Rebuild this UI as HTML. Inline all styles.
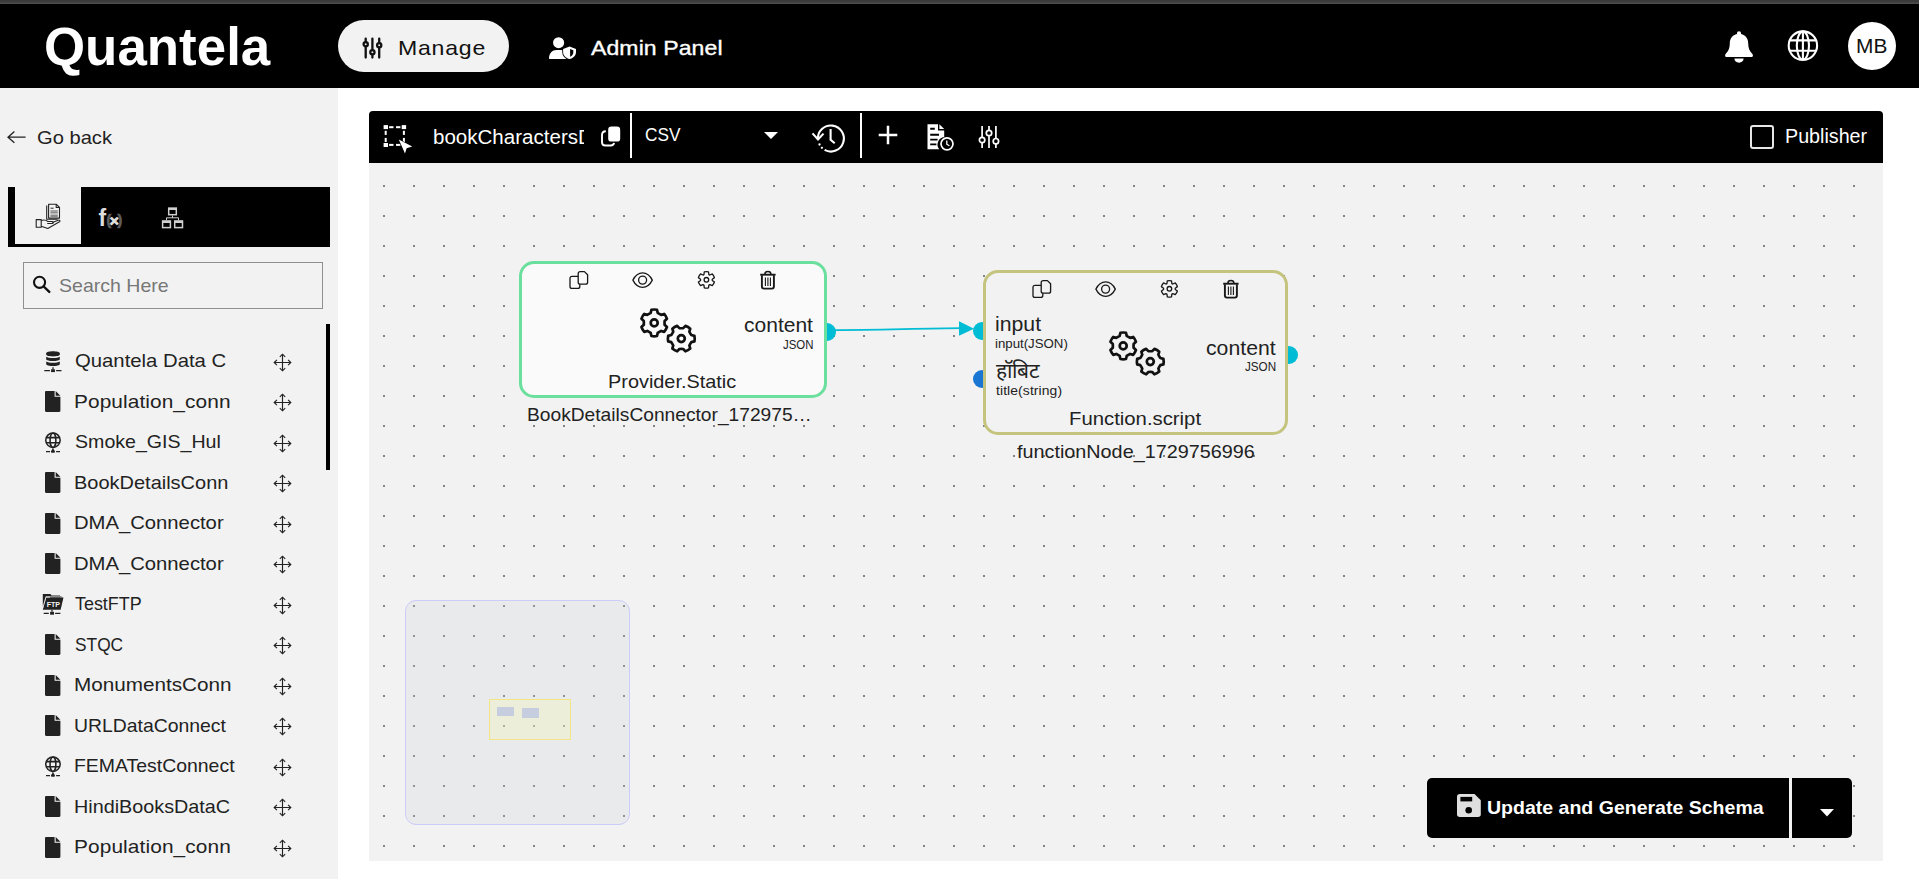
<!DOCTYPE html>
<html lang="en"><head><meta charset="utf-8"><title>Quantela</title>
<style>
html,body{margin:0;padding:0;}
body{width:1919px;height:879px;position:relative;overflow:hidden;background:#fff;font-family:"Liberation Sans","Noto Sans CJK SC",sans-serif;}
svg{display:block;overflow:visible;}
</style></head>
<body>
<div style="position:absolute;left:0px;top:0px;width:1919px;height:4px;background:linear-gradient(#3b3b3b 0,#3b3b3b 2px,#434443 2px,#434443 3px,#4b4d4c 3px,#4b4d4c 4px);"></div>
<div style="position:absolute;left:0px;top:4px;width:1919px;height:84px;background:#000;"></div>
<span style="position:absolute;left:44.39px;top:19.84px;font-size:53px;line-height:1;letter-spacing:0.000px;color:#fff;white-space:nowrap;font-weight:700;transform:scaleX(0.997558268590455);transform-origin:0 0;">Quantela</span>
<div style="position:absolute;left:338px;top:20px;width:171px;height:52px;background:#f2f2f2;border-radius:26px;"></div>
<svg style="position:absolute;left:362px;top:37px;" width="21" height="22" viewBox="0 0 21 22" ><g stroke="#111" stroke-width="2.3" fill="none" stroke-linecap="round"><path d="M3.7 1.6V5.1M3.7 9.3V20.6"/><circle cx="3.7" cy="7.2" r="2.1"/><path d="M10.4 1.6V13.1M10.4 17.3V20.6"/><circle cx="10.4" cy="15.2" r="2.1"/><path d="M17.2 1.6V6.1M17.2 10.299999999999999V20.6"/><circle cx="17.2" cy="8.2" r="2.1"/></g></svg>
<span style="position:absolute;left:397.75px;top:38.16px;font-size:20.6px;line-height:1;letter-spacing:0.693px;color:#111;white-space:nowrap;transform:scaleX(1.12);transform-origin:0 0;">Manage</span>
<svg style="position:absolute;left:548px;top:36px;" width="30" height="24" viewBox="0 0 30 24" ><circle cx="10.600" cy="6.700" r="5.550" fill="#fff"/><path d="M1.800 23.100C1.200 23.100 1 22.800 1 22.200C1 17.200 4.200 13.900 8.600 13.900H13.400C17.800 13.900 20 17.200 20 22.200V23.100Z" fill="#fff"/><path d="M21.550 10.600L28 13V16C28 19.600 25.400 22 21.550 23.100C17.700 22 15.100 19.600 15.100 16V13Z" fill="#fff" stroke="#000" stroke-width="1.700" stroke-linejoin="round" paint-order="stroke"/><path d="M22.100 13L25.300 14.200V16.200C25.300 18.300 24.100 19.700 22.100 20.700Z" fill="#000"/></svg>
<span style="position:absolute;left:591.40px;top:38.36px;font-size:20.6px;line-height:1;letter-spacing:0.070px;color:#fff;white-space:nowrap;-webkit-text-stroke:0.35px #fff;transform:scaleX(1.12);transform-origin:0 0;">Admin Panel</span>
<svg style="position:absolute;left:1724px;top:30px;" width="30" height="34" viewBox="0 0 30 34" ><path d="M15 1.2c1.2 0 2 .9 2 2v.9c4.400.9 7.200 4.700 7.200 9.200c0 4.800 1.300 7.800 3.800 10.300c.7.700.9 1.300.9 1.900c0 .9-.7 1.600-1.800 1.600H2.900c-1.100 0-1.800-.7-1.800-1.600c0-.6.200-1.200.900-1.900c2.500-2.500 3.800-5.500 3.800-10.300c0-4.500 2.800-8.300 7.200-9.200v-.9c0-1.100.8-2 2-2z" fill="#fff"/><path d="M10.400 28.600h9.200c0 2.500-2 4.100-4.600 4.100s-4.600-1.600-4.600-4.100z" fill="#fff"/></svg>
<svg style="position:absolute;left:1786px;top:29px;" width="34" height="34" viewBox="0 0 34 34" ><g fill="none" stroke="#fff" stroke-width="2.1"><circle cx="16.900" cy="16.600" r="14.200"/><ellipse cx="16.900" cy="16.600" rx="6.100" ry="14.200"/><path d="M16.900 2.400V30.800M3.900 11.400H29.900M3.900 21.800H29.900"/></g></svg>
<div style="position:absolute;left:1848px;top:21.6px;width:48px;height:48px;background:#fff;border-radius:50%;"></div>
<span style="position:absolute;left:1856.13px;top:36.26px;font-size:20.6px;line-height:1;letter-spacing:0.000px;color:#111;white-space:nowrap;transform:scaleX(1.0133938062504477);transform-origin:0 0;">MB</span>
<div style="position:absolute;left:0px;top:88px;width:338px;height:791px;background:#f2f2f2;"></div>
<svg style="position:absolute;left:6px;top:129px;" width="22" height="16" viewBox="0 0 22 16" ><path d="M8.400 2.600L2 8.200l6.400 5.600M2 8.200H19.600" stroke="#222" stroke-width="1.3" fill="none"/></svg>
<span style="position:absolute;left:36.99px;top:128.86px;font-size:18.6px;line-height:1;letter-spacing:0.000px;color:#222;white-space:nowrap;transform:scaleX(1.0825835710628338);transform-origin:0 0;">Go back</span>
<div style="position:absolute;left:8px;top:187px;width:322px;height:60px;background:#000;"></div>
<div style="position:absolute;left:15px;top:187px;width:66px;height:56.6px;background:#f2f2f2;"></div>
<svg style="position:absolute;left:34px;top:202px;" width="28" height="28" viewBox="0 0 28 28" ><g fill="none" stroke="#222" stroke-width="1.1" stroke-linejoin="round"><path d="M14.6 2.2h7.6l3.300 3.300v10.600H14.600z"/><path d="M22.200 2.200v3.300h3.300"/><path d="M12.700 3.600v13.600h11"/><path d="M16.600 6.200h3" stroke-width="1"/><path d="M16.400 8.800h7.400M16.400 10.400h7.400M16.400 12h7.400" stroke="#8a8a8a" stroke-width="1.200"/><path d="M16.400 14h7.400" stroke-width="1"/><path d="M2.200 17.600h5v7.600h-5z"/><path d="M7.200 18.600c2.400-.9 4.700-.7 6.600.9h4.400c1.400 0 1.400 2 0 2h-5"/><path d="M7.200 24.200l6.600 2.200l11.700-6.600c1-.6.200-2.200-1.200-1.600l-6 2.300"/></g></svg>
<svg style="position:absolute;left:97px;top:206px;" width="27" height="22" viewBox="0 0 27 22" ><text x="1.4" y="20" style="font-family:Liberation Sans,sans-serif;font-weight:700;font-size:23px" fill="#dedede">f</text><text x="9.4" y="19.2" style="font-family:Liberation Sans,sans-serif;font-weight:700;font-size:14px" fill="#5e5e5e" stroke="#5e5e5e" stroke-width="0.7">(</text><text x="12.8" y="19.6" style="font-family:Liberation Sans,sans-serif;font-weight:700;font-size:15.5px" fill="#dedede" stroke="#dedede" stroke-width="0.9">×</text><text x="20.6" y="19.2" style="font-family:Liberation Sans,sans-serif;font-weight:700;font-size:14px" fill="#5e5e5e" stroke="#5e5e5e" stroke-width="0.7">)</text></svg>
<svg style="position:absolute;left:161px;top:206px;" width="23" height="23" viewBox="0 0 23 23" ><g fill="none" stroke="#d0d0d0" stroke-width="1.500"><rect x="7.700" y="2.100" width="7.600" height="6.600"/><rect x="1.600" y="15" width="7.800" height="6.600"/><rect x="13.700" y="15" width="7.800" height="6.600"/></g><path d="M7.700 3h7.600M1.600 15.900h7.800M13.700 15.900h7.800" stroke="#d0d0d0" stroke-width="2.200"/><path d="M11.500 9.500v2.300M5.500 14.100v-2.300h12v2.300" fill="none" stroke="#d0d0d0" stroke-width="1"/></svg>
<div style="position:absolute;left:23px;top:262px;width:298px;height:45px;border:1px solid #8f8f8f;background:#f2f2f2;"></div>
<svg style="position:absolute;left:31px;top:275px;" width="21" height="21" viewBox="0 0 21 21" ><circle cx="8.550" cy="7.300" r="5.550" fill="none" stroke="#111" stroke-width="2.100"/><path d="M12.700 11.500L18.300 16.900" stroke="#111" stroke-width="2.400" stroke-linecap="round"/></svg>
<span style="position:absolute;left:59.42px;top:277.26px;font-size:18.6px;line-height:1;letter-spacing:0.000px;color:#777;white-space:nowrap;transform:scaleX(1.050941468398774);transform-origin:0 0;">Search Here</span>
<div style="position:absolute;left:326px;top:324px;width:4px;height:146px;background:#000;"></div>
<span style="position:absolute;left:74.79px;top:352.06px;font-size:18.6px;line-height:1;letter-spacing:0.000px;color:#222;white-space:nowrap;transform:scaleX(1.0913285008285336);transform-origin:0 0;">Quantela Data C</span>
<svg style="position:absolute;left:273px;top:352.9px;" width="19" height="19" viewBox="0 0 19 19" ><g fill="none" stroke="#222" stroke-width="1.150" stroke-linejoin="miter"><path d="M9.500 1.200V17.800M1.200 9.500H17.800"/><path d="M6.800 3.900L9.500 1.200L12.200 3.900M6.800 15.100L9.500 17.800L12.200 15.100M3.900 6.800L1.200 9.500L3.900 12.200M15.100 6.800L17.800 9.500L15.100 12.200"/></g></svg>
<svg style="position:absolute;left:44px;top:350.7px;" width="18" height="21.5" viewBox="0 0 18 21.5" ><path d="M2.200 2.300C2.200 -0.400 15.800 -0.400 15.800 2.300V3.600C15.800 6.100 2.200 6.100 2.200 3.600Z" fill="#222"/><path d="M2.200 5.700C4.500 7.500 13.500 7.500 15.800 5.700V8.300C15.800 10.700 2.200 10.700 2.200 8.300Z" fill="#222"/><path d="M2.200 10.400C4.500 12.100 13.500 12.100 15.800 10.400V13C15.800 15.700 2.200 15.700 2.200 13Z" fill="#222"/><path d="M9.0 16.3v2.200" stroke="#222" stroke-width="1.300"/><rect x="7.05" y="18.3" width="3.900" height="2.800" fill="#222"/><path d="M0.3 19.7h5.7M12.1 19.7h5.4" stroke="#222" stroke-width="1.300"/></svg>
<span style="position:absolute;left:74.03px;top:392.56px;font-size:18.6px;line-height:1;letter-spacing:0.084px;color:#222;white-space:nowrap;transform:scaleX(1.12);transform-origin:0 0;">Population_conn</span>
<svg style="position:absolute;left:273px;top:393.4px;" width="19" height="19" viewBox="0 0 19 19" ><g fill="none" stroke="#222" stroke-width="1.150" stroke-linejoin="miter"><path d="M9.500 1.200V17.800M1.200 9.500H17.800"/><path d="M6.800 3.900L9.500 1.200L12.200 3.900M6.800 15.100L9.500 17.800L12.200 15.100M3.900 6.800L1.200 9.500L3.900 12.200M15.100 6.800L17.800 9.500L15.100 12.200"/></g></svg>
<svg style="position:absolute;left:45px;top:391.2px;" width="16" height="21" viewBox="0 0 16 21" ><path d="M1.200 0h8.400v5.800h5.800V19.800c0 .7-.5 1.200-1.200 1.200H1.200C.5 21 0 20.500 0 19.800V1.200C0 .5.500 0 1.200 0z" fill="#222"/><path d="M10.700 0L15.400 4.700h-4.700z" fill="#222"/></svg>
<span style="position:absolute;left:74.82px;top:433.06px;font-size:18.6px;line-height:1;letter-spacing:0.000px;color:#222;white-space:nowrap;transform:scaleX(1.0532796798381598);transform-origin:0 0;">Smoke_GIS_Hul</span>
<svg style="position:absolute;left:273px;top:433.9px;" width="19" height="19" viewBox="0 0 19 19" ><g fill="none" stroke="#222" stroke-width="1.150" stroke-linejoin="miter"><path d="M9.500 1.200V17.800M1.200 9.500H17.800"/><path d="M6.800 3.900L9.500 1.200L12.200 3.900M6.800 15.100L9.500 17.800L12.200 15.100M3.900 6.800L1.200 9.500L3.900 12.200M15.100 6.800L17.800 9.500L15.100 12.200"/></g></svg>
<svg style="position:absolute;left:44px;top:431.7px;" width="18" height="21.5" viewBox="0 0 18 21.5" ><g fill="none" stroke="#222" stroke-width="1.550"><circle cx="8.950" cy="8.200" r="7.200"/><ellipse cx="8.950" cy="8.200" rx="2.900" ry="7.250"/><path d="M2.100 5.600h13.700M2.100 10.800h13.700"/></g><path d="M8.950 15.800L10.700 19.400H7.200Z" fill="#222"/><rect x="7" y="18.600" width="3.900" height="2.200" rx="0.8" fill="#222"/><path d="M2 19.700h4M12.100 19.700h3.900" stroke="#222" stroke-width="1.300"/></svg>
<span style="position:absolute;left:74.10px;top:473.56px;font-size:18.6px;line-height:1;letter-spacing:0.000px;color:#222;white-space:nowrap;transform:scaleX(1.0745595369818708);transform-origin:0 0;">BookDetailsConn</span>
<svg style="position:absolute;left:273px;top:474.4px;" width="19" height="19" viewBox="0 0 19 19" ><g fill="none" stroke="#222" stroke-width="1.150" stroke-linejoin="miter"><path d="M9.500 1.200V17.800M1.200 9.500H17.800"/><path d="M6.800 3.900L9.500 1.200L12.200 3.900M6.800 15.100L9.500 17.800L12.200 15.100M3.900 6.800L1.200 9.500L3.900 12.200M15.100 6.800L17.800 9.500L15.100 12.200"/></g></svg>
<svg style="position:absolute;left:45px;top:472.2px;" width="16" height="21" viewBox="0 0 16 21" ><path d="M1.200 0h8.400v5.800h5.800V19.800c0 .7-.5 1.200-1.200 1.200H1.200C.5 21 0 20.500 0 19.800V1.200C0 .5.500 0 1.200 0z" fill="#222"/><path d="M10.700 0L15.400 4.700h-4.700z" fill="#222"/></svg>
<span style="position:absolute;left:74.08px;top:514.06px;font-size:18.6px;line-height:1;letter-spacing:0.000px;color:#222;white-space:nowrap;transform:scaleX(1.0885346422280688);transform-origin:0 0;">DMA_Connector</span>
<svg style="position:absolute;left:273px;top:514.9000000000001px;" width="19" height="19" viewBox="0 0 19 19" ><g fill="none" stroke="#222" stroke-width="1.150" stroke-linejoin="miter"><path d="M9.500 1.200V17.800M1.200 9.500H17.800"/><path d="M6.800 3.900L9.500 1.200L12.200 3.900M6.800 15.100L9.500 17.800L12.200 15.100M3.900 6.800L1.200 9.500L3.900 12.200M15.100 6.800L17.800 9.500L15.100 12.200"/></g></svg>
<svg style="position:absolute;left:45px;top:512.7px;" width="16" height="21" viewBox="0 0 16 21" ><path d="M1.200 0h8.400v5.800h5.800V19.800c0 .7-.5 1.200-1.200 1.200H1.200C.5 21 0 20.500 0 19.800V1.200C0 .5.500 0 1.200 0z" fill="#222"/><path d="M10.700 0L15.400 4.700h-4.700z" fill="#222"/></svg>
<span style="position:absolute;left:74.08px;top:554.56px;font-size:18.6px;line-height:1;letter-spacing:0.000px;color:#222;white-space:nowrap;transform:scaleX(1.0885346422280688);transform-origin:0 0;">DMA_Connector</span>
<svg style="position:absolute;left:273px;top:555.4000000000001px;" width="19" height="19" viewBox="0 0 19 19" ><g fill="none" stroke="#222" stroke-width="1.150" stroke-linejoin="miter"><path d="M9.500 1.200V17.800M1.200 9.500H17.800"/><path d="M6.800 3.900L9.500 1.200L12.200 3.900M6.800 15.100L9.500 17.800L12.200 15.100M3.900 6.800L1.200 9.500L3.900 12.200M15.100 6.800L17.800 9.500L15.100 12.200"/></g></svg>
<svg style="position:absolute;left:45px;top:553.2px;" width="16" height="21" viewBox="0 0 16 21" ><path d="M1.200 0h8.400v5.800h5.800V19.800c0 .7-.5 1.200-1.200 1.200H1.200C.5 21 0 20.500 0 19.800V1.200C0 .5.500 0 1.200 0z" fill="#222"/><path d="M10.700 0L15.400 4.700h-4.700z" fill="#222"/></svg>
<span style="position:absolute;left:75.34px;top:595.06px;font-size:18.6px;line-height:1;letter-spacing:0.000px;color:#222;white-space:nowrap;transform:scaleX(0.9633230225364559);transform-origin:0 0;">TestFTP</span>
<svg style="position:absolute;left:273px;top:595.9000000000001px;" width="19" height="19" viewBox="0 0 19 19" ><g fill="none" stroke="#222" stroke-width="1.150" stroke-linejoin="miter"><path d="M9.500 1.200V17.800M1.200 9.500H17.800"/><path d="M6.800 3.900L9.500 1.200L12.200 3.900M6.800 15.100L9.500 17.800L12.200 15.100M3.900 6.800L1.200 9.500L3.900 12.200M15.100 6.800L17.800 9.500L15.100 12.200"/></g></svg>
<svg style="position:absolute;left:42px;top:594.2px;" width="22" height="21" viewBox="0 0 22 21" ><path d="M0.800 0h7.600l1.200 1.400H18v2H4L1.600 12.500H0.800z" fill="#222"/><path d="M3.800 2.100h15.400l1.400 1.400H3.200z" fill="#8a8a8a"/><path d="M4.200 3.400H21.500L18.600 15.800H0.600z" fill="#222"/><path d="M0.300 15.800L3.900 3.100H8" fill="none" stroke="#f2f2f2" stroke-width="0.9"/><text x="4.700" y="12.800" style="font-family:Liberation Sans,sans-serif;font-weight:700;font-size:7.8px;" fill="#f2f2f2" textLength="13.400" lengthAdjust="spacingAndGlyphs">FTP</text><path d="M10 15.800v2" stroke="#222" stroke-width="1.300"/><rect x="8.100" y="17.800" width="3.900" height="2.900" fill="#222"/><path d="M1.700 19.300h5.100M13.100 19.300h5.300" stroke="#222" stroke-width="1.300"/></svg>
<span style="position:absolute;left:74.92px;top:635.56px;font-size:18.6px;line-height:1;letter-spacing:0.000px;color:#222;white-space:nowrap;transform:scaleX(0.9316336505276597);transform-origin:0 0;">STQC</span>
<svg style="position:absolute;left:273px;top:636.4000000000001px;" width="19" height="19" viewBox="0 0 19 19" ><g fill="none" stroke="#222" stroke-width="1.150" stroke-linejoin="miter"><path d="M9.500 1.200V17.800M1.200 9.500H17.800"/><path d="M6.800 3.900L9.500 1.200L12.200 3.900M6.800 15.100L9.500 17.800L12.200 15.100M3.900 6.800L1.200 9.500L3.900 12.200M15.100 6.800L17.800 9.500L15.100 12.200"/></g></svg>
<svg style="position:absolute;left:45px;top:634.2px;" width="16" height="21" viewBox="0 0 16 21" ><path d="M1.200 0h8.400v5.800h5.800V19.800c0 .7-.5 1.200-1.200 1.200H1.200C.5 21 0 20.500 0 19.800V1.200C0 .5.500 0 1.200 0z" fill="#222"/><path d="M10.700 0L15.400 4.700h-4.700z" fill="#222"/></svg>
<span style="position:absolute;left:74.05px;top:676.06px;font-size:18.6px;line-height:1;letter-spacing:0.000px;color:#222;white-space:nowrap;transform:scaleX(1.1119747808438052);transform-origin:0 0;">MonumentsConn</span>
<svg style="position:absolute;left:273px;top:676.9000000000001px;" width="19" height="19" viewBox="0 0 19 19" ><g fill="none" stroke="#222" stroke-width="1.150" stroke-linejoin="miter"><path d="M9.500 1.200V17.800M1.200 9.500H17.800"/><path d="M6.800 3.900L9.500 1.200L12.200 3.900M6.800 15.100L9.500 17.800L12.200 15.100M3.900 6.800L1.200 9.500L3.900 12.200M15.100 6.800L17.800 9.500L15.100 12.200"/></g></svg>
<svg style="position:absolute;left:45px;top:674.7px;" width="16" height="21" viewBox="0 0 16 21" ><path d="M1.200 0h8.400v5.800h5.800V19.800c0 .7-.5 1.200-1.200 1.200H1.200C.5 21 0 20.500 0 19.800V1.200C0 .5.500 0 1.200 0z" fill="#222"/><path d="M10.700 0L15.400 4.700h-4.700z" fill="#222"/></svg>
<span style="position:absolute;left:74.25px;top:716.56px;font-size:18.6px;line-height:1;letter-spacing:0.000px;color:#222;white-space:nowrap;transform:scaleX(1.0426849136526555);transform-origin:0 0;">URLDataConnect</span>
<svg style="position:absolute;left:273px;top:717.4000000000001px;" width="19" height="19" viewBox="0 0 19 19" ><g fill="none" stroke="#222" stroke-width="1.150" stroke-linejoin="miter"><path d="M9.500 1.200V17.800M1.200 9.500H17.800"/><path d="M6.800 3.900L9.500 1.200L12.200 3.900M6.800 15.100L9.500 17.800L12.200 15.100M3.900 6.800L1.200 9.500L3.900 12.200M15.100 6.800L17.800 9.500L15.100 12.200"/></g></svg>
<svg style="position:absolute;left:45px;top:715.2px;" width="16" height="21" viewBox="0 0 16 21" ><path d="M1.200 0h8.400v5.800h5.800V19.800c0 .7-.5 1.200-1.200 1.200H1.200C.5 21 0 20.500 0 19.800V1.200C0 .5.500 0 1.200 0z" fill="#222"/><path d="M10.700 0L15.400 4.700h-4.700z" fill="#222"/></svg>
<span style="position:absolute;left:74.15px;top:757.06px;font-size:18.6px;line-height:1;letter-spacing:0.000px;color:#222;white-space:nowrap;transform:scaleX(1.0450166058334152);transform-origin:0 0;">FEMATestConnect</span>
<svg style="position:absolute;left:273px;top:757.9000000000001px;" width="19" height="19" viewBox="0 0 19 19" ><g fill="none" stroke="#222" stroke-width="1.150" stroke-linejoin="miter"><path d="M9.500 1.200V17.800M1.200 9.500H17.800"/><path d="M6.800 3.900L9.500 1.200L12.200 3.900M6.800 15.100L9.500 17.800L12.200 15.100M3.900 6.800L1.200 9.500L3.900 12.200M15.100 6.800L17.800 9.500L15.100 12.200"/></g></svg>
<svg style="position:absolute;left:44px;top:755.7px;" width="18" height="21.5" viewBox="0 0 18 21.5" ><g fill="none" stroke="#222" stroke-width="1.550"><circle cx="8.950" cy="8.200" r="7.200"/><ellipse cx="8.950" cy="8.200" rx="2.900" ry="7.250"/><path d="M2.100 5.600h13.700M2.100 10.800h13.700"/></g><path d="M8.950 15.800L10.700 19.400H7.200Z" fill="#222"/><rect x="7" y="18.600" width="3.900" height="2.200" rx="0.8" fill="#222"/><path d="M2 19.700h4M12.100 19.700h3.900" stroke="#222" stroke-width="1.300"/></svg>
<span style="position:absolute;left:74.12px;top:797.56px;font-size:18.6px;line-height:1;letter-spacing:0.000px;color:#222;white-space:nowrap;transform:scaleX(1.063513466791135);transform-origin:0 0;">HindiBooksDataC</span>
<svg style="position:absolute;left:273px;top:798.4000000000001px;" width="19" height="19" viewBox="0 0 19 19" ><g fill="none" stroke="#222" stroke-width="1.150" stroke-linejoin="miter"><path d="M9.500 1.200V17.800M1.200 9.500H17.800"/><path d="M6.800 3.900L9.500 1.200L12.200 3.900M6.800 15.100L9.500 17.800L12.200 15.100M3.900 6.800L1.200 9.500L3.900 12.200M15.100 6.800L17.800 9.500L15.100 12.200"/></g></svg>
<svg style="position:absolute;left:45px;top:796.2px;" width="16" height="21" viewBox="0 0 16 21" ><path d="M1.200 0h8.400v5.800h5.800V19.800c0 .7-.5 1.200-1.200 1.200H1.200C.5 21 0 20.500 0 19.800V1.200C0 .5.500 0 1.200 0z" fill="#222"/><path d="M10.700 0L15.400 4.700h-4.700z" fill="#222"/></svg>
<span style="position:absolute;left:74.03px;top:838.06px;font-size:18.6px;line-height:1;letter-spacing:0.103px;color:#222;white-space:nowrap;transform:scaleX(1.12);transform-origin:0 0;">Population_conn</span>
<svg style="position:absolute;left:273px;top:838.9000000000001px;" width="19" height="19" viewBox="0 0 19 19" ><g fill="none" stroke="#222" stroke-width="1.150" stroke-linejoin="miter"><path d="M9.500 1.200V17.800M1.200 9.500H17.800"/><path d="M6.800 3.900L9.500 1.200L12.200 3.900M6.800 15.100L9.500 17.800L12.200 15.100M3.900 6.800L1.200 9.500L3.900 12.200M15.100 6.800L17.800 9.500L15.100 12.200"/></g></svg>
<svg style="position:absolute;left:45px;top:836.7px;" width="16" height="21" viewBox="0 0 16 21" ><path d="M1.200 0h8.400v5.800h5.800V19.800c0 .7-.5 1.200-1.200 1.200H1.200C.5 21 0 20.500 0 19.800V1.200C0 .5.500 0 1.200 0z" fill="#222"/><path d="M10.700 0L15.400 4.700h-4.700z" fill="#222"/></svg>
<div style="position:absolute;left:369px;top:111px;width:1514px;height:52px;background:#000;border-radius:4px 4px 0 0;"></div>
<svg style="position:absolute;left:383px;top:124px;" width="30" height="30" viewBox="0 0 30 30" ><g fill="#fff"><rect x="0.6" y="1.1" width="4.400" height="4"/><rect x="18.7" y="1.1" width="4.400" height="4"/><rect x="0.6" y="19" width="4.400" height="4"/><rect x="6.1" y="2.200" width="4.400" height="2"/><rect x="6.1" y="19.900" width="4.400" height="2"/><rect x="13.0" y="2.200" width="4.400" height="2"/><rect x="13.0" y="19.900" width="4.400" height="2"/><rect x="1.700" y="6.8" width="2" height="4.100"/><rect x="19.900" y="6.8" width="2" height="4.100"/><rect x="1.700" y="13.9" width="2" height="4.100"/><rect x="19.900" y="13.9" width="2" height="4.100"/></g><path d="M15.800 15.400L29.200 22.400L23.600 24.300L22 29.600Z" fill="#fff" stroke="#000" stroke-width="0.800" paint-order="stroke"/></svg>
<div style="position:absolute;left:432px;top:120px;width:152.2px;height:34px;overflow:hidden;"><span style="position:absolute;left:0.86px;top:7.61px;font-size:19.6px;line-height:1;letter-spacing:0.000px;color:#fff;white-space:nowrap;transform:scaleX(1.0482641332395026);transform-origin:0 0;">bookCharactersData</span></div>
<svg style="position:absolute;left:600px;top:126px;" width="21" height="21" viewBox="0 0 21 21" ><path d="M11.400 0.600h5.600c2.100 0 3.200 1.100 3.200 3.200v8.600c0 2.100-1.100 3.200-3.200 3.200h-5.600c-2.100 0-3.200-1.100-3.200-3.200V3.800c0-2.100 1.100-3.200 3.200-3.200z" fill="#fff"/><path d="M5.800 5.200C3.200 5.300 2 6.500 2 9v7.200c0 2.200 1.100 3.300 3.300 3.300h5.400c2 0 3.100-.9 3.300-2.600" fill="none" stroke="#fff" stroke-width="1.900"/></svg>
<div style="position:absolute;left:630px;top:113px;width:2px;height:45px;background:#fff;"></div>
<span style="position:absolute;left:645.14px;top:126.16px;font-size:18.6px;line-height:1;letter-spacing:0.000px;color:#fff;white-space:nowrap;transform:scaleX(0.9274193548387097);transform-origin:0 0;">CSV</span>
<svg style="position:absolute;left:764px;top:132px;" width="14" height="7" viewBox="0 0 14 7" ><path d="M0 0H14L7 7Z" fill="#fff"/></svg>
<svg style="position:absolute;left:811px;top:123px;" width="36" height="31" viewBox="0 0 36 31" ><g fill="none" stroke="#fff" stroke-width="2.1" stroke-linecap="butt"><path d="M6.900 16.400A13 13 0 1 1 13.600 26.900"/><path d="M1.500 10.400L7 16.500L12.500 10.600"/><path d="M19.600 6.100V16.800L23.700 20.300"/></g><circle cx="8.500" cy="21.500" r="1.150" fill="#fff"/><circle cx="10.900" cy="24.800" r="1.150" fill="#fff"/></svg>
<div style="position:absolute;left:860px;top:113px;width:2px;height:45px;background:#fff;"></div>
<svg style="position:absolute;left:878px;top:125px;" width="20" height="20" viewBox="0 0 20 20" ><path d="M10 0.7V19.3M0.7 10H19.3" stroke="#fff" stroke-width="2.5" fill="none"/></svg>
<svg style="position:absolute;left:926px;top:123px;" width="30" height="30" viewBox="0 0 30 30" ><path d="M1.500 1.200h10.500v6.300h6.200V14a7.600 7.600 0 0 0-5 12.300H1.500z" fill="#fff"/><path d="M13.400 1.200L18.200 6h-4.800z" fill="#fff"/><path d="M4.200 5.800h4.600M4.200 11.800h8.800M4.200 16.600h7.400M4.200 21.400h6.200" stroke="#000" stroke-width="1.900"/><circle cx="21" cy="20.800" r="6" fill="#000" stroke="#fff" stroke-width="1.700"/><path d="M20.800 17.400v3.800l2.600 1.600" stroke="#fff" stroke-width="1.300" fill="none"/></svg>
<svg style="position:absolute;left:977px;top:125px;" width="24" height="24" viewBox="0 0 24 24" ><g stroke="#fff" stroke-width="1.700" fill="none" stroke-linecap="butt"><path d="M5.1 1V12.3M5.1 17.7V23"/><circle cx="5.1" cy="15.0" r="2.7"/><path d="M12.0 1V5.3M12.0 10.7V23"/><circle cx="12.0" cy="8.0" r="2.7"/><path d="M18.9 1V13.5M18.9 18.9V23"/><circle cx="18.9" cy="16.2" r="2.7"/></g></svg>
<div style="position:absolute;left:1750px;top:125px;width:20px;height:20px;border:2px solid #e6e6e6;border-radius:3px;"></div>
<span style="position:absolute;left:1785.22px;top:127.31px;font-size:19.6px;line-height:1;letter-spacing:-0.000px;color:#fff;white-space:nowrap;transform:scaleX(1.0053652910795774);transform-origin:0 0;">Publisher</span>
<div style="position:absolute;left:369px;top:163px;width:1514px;height:698px;background-color:#f2f2f2;background-image:radial-gradient(circle at 1px 1px,#848484 0.95px,rgba(132,132,132,0) 1.25px);background-size:30px 30px;background-position:14px 22px;"></div>
<svg style="position:absolute;left:826px;top:310px;" width="170" height="40" viewBox="0 0 170 40" ><path d="M8 20.05 C 50 19.9, 95 18.5, 136 18.2" stroke="#00bcd4" stroke-width="1.7" fill="none"/><path d="M133 11.3 L148 18.8 L133 25.7 Z" fill="#00bcd4"/></svg>
<div style="position:absolute;left:817.9px;top:322.95px;width:18.2px;height:18.2px;background:#00bcd4;border-radius:50%;"></div>
<div style="position:absolute;left:519px;top:261px;width:301.8px;height:131px;border:3.1px solid #6bdf9d;border-radius:15px;background:#fafafa;"></div>
<svg style="position:absolute;left:568px;top:270px;" width="22" height="21" viewBox="0 0 22 21" ><g fill="none" stroke="#181818" stroke-width="1.300" stroke-linejoin="round"><path d="M12.200 1.600h4.200l3.200 3.200v7.400c0 1.300-.7 2-2 2h-5.400c-1.300 0-2-.7-2-2V3.600c0-1.300.7-2 2-2z"/><path d="M10.200 6.400H4c-1.300 0-2 .7-2 2v8c0 1.300.7 2 2 2h5.800c1.300 0 2-.7 2-2v-2.200"/></g></svg>
<svg style="position:absolute;left:631px;top:270px;" width="22" height="21" viewBox="0 0 22 21" ><g fill="none" stroke="#181818" stroke-width="1.300"><path d="M1.900 10.100C4.200 5.500 7.500 2.900 11.600 2.900s7.400 2.600 9.700 7.200c-2.300 4.600-5.600 7.200-9.700 7.200s-7.400-2.600-9.700-7.200z"/><circle cx="11.600" cy="10.100" r="4"/></g></svg>
<svg style="position:absolute;left:696px;top:270px;" width="22" height="21" viewBox="0 0 22 21" ><path d="M7.98 4.42L8.28 1.78Q10.40 1.33 12.52 1.78L12.82 4.42Q13.26 4.84 13.85 5.02L13.85 5.02L16.29 3.95Q17.73 5.57 18.41 7.63L16.27 9.20Q16.12 9.80 16.27 10.40L16.27 10.40L18.41 11.97Q17.73 14.03 16.29 15.65L13.85 14.58Q13.26 14.76 12.82 15.18L12.82 15.18L12.52 17.82Q10.40 18.27 8.28 17.82L7.98 15.18Q7.54 14.76 6.95 14.58L6.95 14.58L4.51 15.65Q3.07 14.03 2.39 11.97L4.53 10.40Q4.68 9.80 4.53 9.20L4.53 9.20L2.39 7.63Q3.07 5.57 4.51 3.95L6.95 5.02Q7.54 4.84 7.98 4.42Z" fill="none" stroke="#181818" stroke-width="1.300" stroke-linejoin="round"/><circle cx="10.400" cy="9.800" r="2.300" fill="none" stroke="#181818" stroke-width="1.300"/></svg>
<svg style="position:absolute;left:758px;top:270px;" width="22" height="21" viewBox="0 0 22 21" ><g fill="none" stroke="#181818" stroke-linejoin="round"><path d="M2.200 4.700h15.400" stroke-width="1.900"/><path d="M6.900 4.200C6.900 2.300 7.900 1.500 9.900 1.500s3 .8 3 2.700" stroke-width="1.500"/><path d="M3.900 5.200v11.400c0 1.300.7 2 2 2h8c1.300 0 2-.7 2-2V5.200" stroke-width="1.900"/><path d="M7.400 7.600v8.300M9.900 7.600v8.300M12.400 7.600v8.300" stroke-width="1.100"/></g></svg>
<svg style="position:absolute;left:639px;top:307px;" width="58" height="47" viewBox="0 0 58 47" ><g fill="none" stroke="#111" stroke-width="2.700" stroke-linejoin="round"><path d="M11.66 5.91L12.42 2.79Q15.20 2.23 17.98 2.79L18.74 5.91Q20.34 7.00 22.08 7.84L22.08 7.84L25.16 6.94Q27.04 9.07 27.94 11.75L25.62 13.97Q25.48 15.90 25.62 17.83L25.62 17.83L27.94 20.05Q27.04 22.73 25.16 24.86L22.08 23.96Q20.34 24.80 18.74 25.89L18.74 25.89L17.98 29.01Q15.20 29.57 12.42 29.01L11.66 25.89Q10.06 24.80 8.32 23.96L8.32 23.96L5.24 24.86Q3.36 22.73 2.46 20.05L4.78 17.83Q4.92 15.90 4.78 13.97L4.78 13.97L2.46 11.75Q3.36 9.07 5.24 6.94L8.32 7.84Q10.06 7.00 11.66 5.91Z"/><circle cx="15.200" cy="15.900" r="3.500"/><path d="M44.23 21.18L46.45 18.86Q49.13 19.76 51.26 21.64L50.36 24.72Q51.20 26.46 52.29 28.06L52.29 28.06L55.41 28.82Q55.97 31.60 55.41 34.38L52.29 35.14Q51.20 36.74 50.36 38.48L50.36 38.48L51.26 41.56Q49.13 43.44 46.45 44.34L44.23 42.02Q42.30 41.88 40.37 42.02L40.37 42.02L38.15 44.34Q35.47 43.44 33.34 41.56L34.24 38.48Q33.40 36.74 32.31 35.14L32.31 35.14L29.19 34.38Q28.63 31.60 29.19 28.82L32.31 28.06Q33.40 26.46 34.24 24.72L34.24 24.72L33.34 21.64Q35.47 19.76 38.15 18.86L40.37 21.18Q42.30 21.32 44.23 21.18Z"/><circle cx="42.300" cy="31.600" r="3.500"/></g></svg>
<span style="position:absolute;left:743.56px;top:316.21px;font-size:19.6px;line-height:1;letter-spacing:0.000px;color:#222;white-space:nowrap;transform:scaleX(1.0724537110052677);transform-origin:0 0;">content</span>
<span style="position:absolute;left:782.83px;top:338.50px;font-size:12.4px;line-height:1;letter-spacing:0.000px;color:#222;white-space:nowrap;transform:scaleX(0.922555541609137);transform-origin:0 0;">JSON</span>
<span style="position:absolute;left:608.21px;top:372.96px;font-size:18.6px;line-height:1;letter-spacing:-0.000px;color:#222;white-space:nowrap;transform:scaleX(1.069337468330834);transform-origin:0 0;">Provider.Static</span>
<span style="position:absolute;left:527.16px;top:406.26px;font-size:18.6px;line-height:1;letter-spacing:0.000px;color:#222;white-space:nowrap;transform:scaleX(1.0319052763874492);transform-origin:0 0;">BookDetailsConnector_172975…</span>
<div style="position:absolute;left:973.1px;top:321.59999999999997px;width:18.2px;height:18.2px;background:#00bcd4;border-radius:50%;"></div>
<div style="position:absolute;left:973.1px;top:369.9px;width:18.2px;height:18.2px;background:#1976d2;border-radius:50%;"></div>
<div style="position:absolute;left:1279.5px;top:345.79999999999995px;width:18.2px;height:18.2px;background:#00bcd4;border-radius:50%;"></div>
<div style="position:absolute;left:982.5px;top:270px;width:299.6px;height:159px;border:3.2px solid #c4c47e;border-radius:15px;background:#f2f2f2;"></div>
<svg style="position:absolute;left:1031px;top:279px;" width="22" height="21" viewBox="0 0 22 21" ><g fill="none" stroke="#181818" stroke-width="1.300" stroke-linejoin="round"><path d="M12.200 1.600h4.200l3.200 3.200v7.400c0 1.300-.7 2-2 2h-5.400c-1.300 0-2-.7-2-2V3.600c0-1.300.7-2 2-2z"/><path d="M10.200 6.400H4c-1.300 0-2 .7-2 2v8c0 1.300.7 2 2 2h5.800c1.300 0 2-.7 2-2v-2.200"/></g></svg>
<svg style="position:absolute;left:1094px;top:279px;" width="22" height="21" viewBox="0 0 22 21" ><g fill="none" stroke="#181818" stroke-width="1.300"><path d="M1.900 10.100C4.200 5.500 7.500 2.900 11.600 2.900s7.400 2.600 9.700 7.200c-2.300 4.600-5.600 7.200-9.700 7.200s-7.400-2.600-9.700-7.200z"/><circle cx="11.600" cy="10.100" r="4"/></g></svg>
<svg style="position:absolute;left:1159px;top:279px;" width="22" height="21" viewBox="0 0 22 21" ><path d="M7.98 4.42L8.28 1.78Q10.40 1.33 12.52 1.78L12.82 4.42Q13.26 4.84 13.85 5.02L13.85 5.02L16.29 3.95Q17.73 5.57 18.41 7.63L16.27 9.20Q16.12 9.80 16.27 10.40L16.27 10.40L18.41 11.97Q17.73 14.03 16.29 15.65L13.85 14.58Q13.26 14.76 12.82 15.18L12.82 15.18L12.52 17.82Q10.40 18.27 8.28 17.82L7.98 15.18Q7.54 14.76 6.95 14.58L6.95 14.58L4.51 15.65Q3.07 14.03 2.39 11.97L4.53 10.40Q4.68 9.80 4.53 9.20L4.53 9.20L2.39 7.63Q3.07 5.57 4.51 3.95L6.95 5.02Q7.54 4.84 7.98 4.42Z" fill="none" stroke="#181818" stroke-width="1.300" stroke-linejoin="round"/><circle cx="10.400" cy="9.800" r="2.300" fill="none" stroke="#181818" stroke-width="1.300"/></svg>
<svg style="position:absolute;left:1221px;top:279px;" width="22" height="21" viewBox="0 0 22 21" ><g fill="none" stroke="#181818" stroke-linejoin="round"><path d="M2.200 4.700h15.400" stroke-width="1.900"/><path d="M6.900 4.200C6.900 2.300 7.900 1.500 9.900 1.500s3 .8 3 2.700" stroke-width="1.500"/><path d="M3.900 5.200v11.400c0 1.300.7 2 2 2h8c1.300 0 2-.7 2-2V5.200" stroke-width="1.900"/><path d="M7.400 7.600v8.300M9.900 7.600v8.300M12.400 7.600v8.300" stroke-width="1.100"/></g></svg>
<span style="position:absolute;left:994.62px;top:315.31px;font-size:19.6px;line-height:1;letter-spacing:0.000px;color:#222;white-space:nowrap;transform:scaleX(1.0837270469046807);transform-origin:0 0;">input</span>
<span style="position:absolute;left:995.14px;top:337.60px;font-size:12.4px;line-height:1;letter-spacing:0.000px;color:#222;white-space:nowrap;transform:scaleX(1.0682670667666923);transform-origin:0 0;">input(JSON)</span>
<span style="position:absolute;left:995.5px;top:357.5px;font-size:21px;line-height:26px;color:#222;white-space:nowrap;">हॉबिट</span>
<span style="position:absolute;left:995.79px;top:385.00px;font-size:12.4px;line-height:1;letter-spacing:0.093px;color:#222;white-space:nowrap;transform:scaleX(1.12);transform-origin:0 0;">title(string)</span>
<svg style="position:absolute;left:1108px;top:330px;" width="58" height="47" viewBox="0 0 58 47" ><g fill="none" stroke="#111" stroke-width="2.700" stroke-linejoin="round"><path d="M11.66 5.91L12.42 2.79Q15.20 2.23 17.98 2.79L18.74 5.91Q20.34 7.00 22.08 7.84L22.08 7.84L25.16 6.94Q27.04 9.07 27.94 11.75L25.62 13.97Q25.48 15.90 25.62 17.83L25.62 17.83L27.94 20.05Q27.04 22.73 25.16 24.86L22.08 23.96Q20.34 24.80 18.74 25.89L18.74 25.89L17.98 29.01Q15.20 29.57 12.42 29.01L11.66 25.89Q10.06 24.80 8.32 23.96L8.32 23.96L5.24 24.86Q3.36 22.73 2.46 20.05L4.78 17.83Q4.92 15.90 4.78 13.97L4.78 13.97L2.46 11.75Q3.36 9.07 5.24 6.94L8.32 7.84Q10.06 7.00 11.66 5.91Z"/><circle cx="15.200" cy="15.900" r="3.500"/><path d="M44.23 21.18L46.45 18.86Q49.13 19.76 51.26 21.64L50.36 24.72Q51.20 26.46 52.29 28.06L52.29 28.06L55.41 28.82Q55.97 31.60 55.41 34.38L52.29 35.14Q51.20 36.74 50.36 38.48L50.36 38.48L51.26 41.56Q49.13 43.44 46.45 44.34L44.23 42.02Q42.30 41.88 40.37 42.02L40.37 42.02L38.15 44.34Q35.47 43.44 33.34 41.56L34.24 38.48Q33.40 36.74 32.31 35.14L32.31 35.14L29.19 34.38Q28.63 31.60 29.19 28.82L32.31 28.06Q33.40 26.46 34.24 24.72L34.24 24.72L33.34 21.64Q35.47 19.76 38.15 18.86L40.37 21.18Q42.30 21.32 44.23 21.18Z"/><circle cx="42.300" cy="31.600" r="3.500"/></g></svg>
<span style="position:absolute;left:1205.65px;top:338.81px;font-size:19.6px;line-height:1;letter-spacing:0.000px;color:#222;white-space:nowrap;transform:scaleX(1.0834936756773814);transform-origin:0 0;">content</span>
<span style="position:absolute;left:1245.02px;top:361.20px;font-size:12.4px;line-height:1;letter-spacing:0.000px;color:#222;white-space:nowrap;transform:scaleX(0.9413832057236099);transform-origin:0 0;">JSON</span>
<span style="position:absolute;left:1068.68px;top:409.86px;font-size:18.6px;line-height:1;letter-spacing:0.000px;color:#222;white-space:nowrap;transform:scaleX(1.092030607028218);transform-origin:0 0;">Function.script</span>
<span style="position:absolute;left:1016.70px;top:442.56px;font-size:18.6px;line-height:1;letter-spacing:-0.000px;color:#222;white-space:nowrap;transform:scaleX(1.064475654672765);transform-origin:0 0;">functionNode_1729756996</span>
<div style="position:absolute;left:405px;top:600px;width:223px;height:223px;border:1px solid #cbccfa;border-radius:11px;background:rgba(202,207,217,0.2);"></div>
<div style="position:absolute;left:489px;top:699px;width:80px;height:39px;border:1px solid #f3e586;background:rgba(247,248,174,0.3);"></div>
<div style="position:absolute;left:497px;top:707px;width:17px;height:9px;background:#c5cddf;"></div>
<div style="position:absolute;left:522px;top:708px;width:17px;height:10px;background:#c5cddf;"></div>
<div style="position:absolute;left:1427px;top:778px;width:361.8px;height:60px;background:#000;border-radius:5px 0 0 5px;"></div>
<div style="position:absolute;left:1791.6px;top:778px;width:60.4px;height:60px;background:#000;border-radius:0 5px 5px 0;"></div>
<svg style="position:absolute;left:1456px;top:792.5px;" width="26" height="25" viewBox="0 0 26 25" ><path d="M3.800 1h14.700l6.300 6.300v13.900c0 1.700-1 2.800-2.800 2.800H3.800C2 24 1 22.900 1 21.200V3.800C1 2 2 1 3.800 1z" fill="#dfdfdf"/><rect x="4.400" y="3.900" width="11.800" height="4.500" fill="#000"/><circle cx="12.700" cy="17.200" r="3.300" fill="#000"/></svg>
<span style="position:absolute;left:1486.73px;top:799.16px;font-size:18.6px;line-height:1;letter-spacing:0.000px;color:#fff;white-space:nowrap;font-weight:700;transform:scaleX(1.0497578360595807);transform-origin:0 0;">Update and Generate Schema</span>
<svg style="position:absolute;left:1820px;top:809px;" width="14" height="7.5" viewBox="0 0 14 7.5" ><path d="M0 0H14L7 7.5Z" fill="#fff"/></svg>
</body></html>
